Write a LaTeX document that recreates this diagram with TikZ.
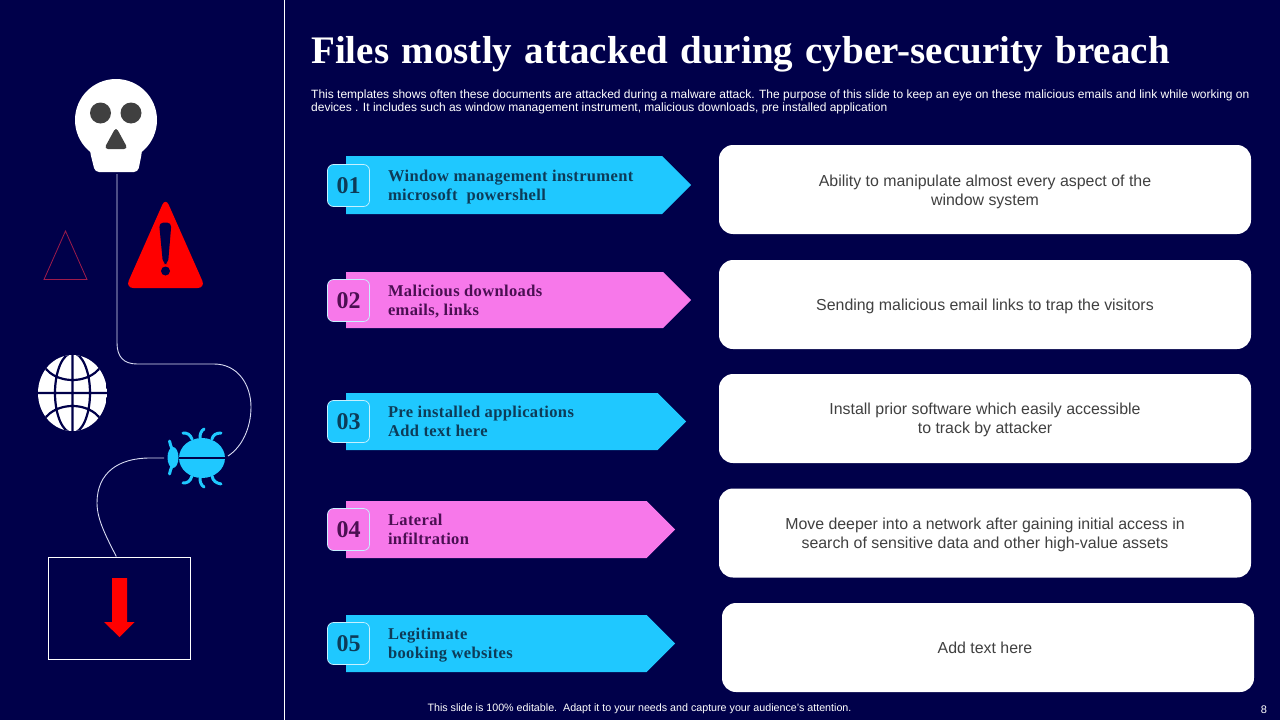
\documentclass[tikz,border=0pt]{standalone}
\usepackage{fontspec}
\setmainfont{Liberation Sans}
\newfontfamily\headfont{Liberation Serif}
\newfontfamily\titlefont[LetterSpace=0.15,WordSpace=1.25]{Liberation Serif}
\newfontfamily\tagfont[LetterSpace=2.2]{Liberation Serif}
\usepackage{xcolor}
\definecolor{cyberbg}{HTML}{00004A}
\definecolor{cyberblue}{HTML}{1FC8FF}
\definecolor{cyberpink}{HTML}{F778EA}
\definecolor{cyberteal}{HTML}{0D3B58}
\definecolor{cyberplum}{HTML}{4A0F52}
\definecolor{cybergrey}{HTML}{404040}
\definecolor{cyberline}{HTML}{D9DCF2}
\definecolor{cyberred}{HTML}{FF0000}
\definecolor{cyberwine}{HTML}{9E1B4B}
\usetikzlibrary{shapes.symbols, positioning}

\begin{document}
\begin{tikzpicture}[x=1pt, y=-1pt,
  tagarrow/.style={signal, signal from=nowhere, signal to=east, signal pointer angle=90,
    anchor=west, inner sep=0pt, minimum height=57pt},
  badge/.style={rectangle, rounded corners=6pt, draw=white!75!cyberblue, line width=0.7pt,
    minimum width=42pt, minimum height=42pt, inner sep=0pt,
    font=\headfont\bfseries\fontsize{24}{24}\selectfont},
  taglabel/.style={align=left, inner sep=0pt, anchor=west,
    font=\tagfont\bfseries\fontsize{16.5}{19}\selectfont},
  card/.style={rectangle, rounded corners=14pt, fill=white,
    minimum width=532pt, minimum height=89pt, inner sep=0pt},
  cardtext/.style={text=cybergrey, align=center, inner sep=0pt,
    font=\fontsize{15.9}{19}\selectfont},
  wire/.style={cyberline, line width=0.9pt},
  plaintext/.style={text=white, inner sep=0pt}
]
\useasboundingbox (0,0) rectangle (1280,720);
\fill[cyberbg] (0,0) rectangle (1280,720);
\draw[white, line width=1pt] (284.5,0) -- (284.5,720);

% title and intro
\node[plaintext, anchor=base west, font=\titlefont\bfseries\fontsize{39}{39}\selectfont] (title) at (311,63.5)
  {Files mostly attacked during cyber-security breach};
\node[plaintext, anchor=north west, align=left, font=\fontsize{12}{13}\selectfont] (intro) at (311,90)
  {This templates shows often these documents are attacked during a malware attack. The purpose of this slide to keep an eye on these malicious emails and link while working on\\
   devices . It includes such as window management instrument, malicious downloads, pre installed application};

% arrows
\node[tagarrow, fill=cyberblue, minimum width=345pt, minimum height=58pt] (arrow1) at (346,185) {};
\node[badge, fill=cyberblue, text=cyberteal] (num1) at (348.5,185.5) {01};
\node[taglabel, text=cyberteal, right=18pt of num1, yshift=-2pt] (tag1)
  {Window management instrument\\microsoft\ \ powershell};
\node[tagarrow, fill=cyberpink, minimum width=345pt, minimum height=56pt] (arrow2) at (346,300) {};
\node[badge, fill=cyberpink, text=cyberplum] (num2) at (348.5,300.5) {02};
\node[taglabel, text=cyberplum, right=18pt of num2, yshift=-1pt] (tag2)
  {Malicious downloads\\emails, links};
\node[tagarrow, fill=cyberblue, minimum width=340pt] (arrow3) at (346,421.5) {};
\node[badge, fill=cyberblue, text=cyberteal] (num3) at (348.5,421.5) {03};
\node[taglabel, text=cyberteal, right=18pt of num3] (tag3)
  {Pre installed applications\\Add text here};
\node[tagarrow, fill=cyberpink, minimum width=329pt] (arrow4) at (346,529.5) {};
\node[badge, fill=cyberpink, text=cyberplum] (num4) at (348.5,529.5) {04};
\node[taglabel, text=cyberplum, right=18pt of num4] (tag4)
  {Lateral\\infiltration};
\node[tagarrow, fill=cyberblue, minimum width=329pt] (arrow5) at (346,643.5) {};
\node[badge, fill=cyberblue, text=cyberteal] (num5) at (348.5,643.5) {05};
\node[taglabel, text=cyberteal, right=18pt of num5, yshift=-2pt] (tag5)
  {Legitimate\\booking websites};

% cards
\node[card] (card1) at (985,189.5) {};
\node[cardtext, yshift=-2.5pt] (text1) at (card1) {Ability to manipulate almost every aspect of the\\window system};
\node[card] (card2) at (985,304.5) {};
\node[cardtext, yshift=-1.5pt] (text2) at (card2) {Sending malicious email links to trap the visitors};
\node[card] (card3) at (985,418.5) {};
\node[cardtext, yshift=-1.5pt] (text3) at (card3) {Install prior software which easily accessible\\to track by attacker};
\node[card] (card4) at (985,533) {};
\node[cardtext, yshift=-2pt] (text4) at (card4) {Move deeper into a network after gaining initial access in\\search of sensitive data and other high-value assets};
\node[card] (card5) at (988,647.5) {};
\node[cardtext, xshift=-3pt] (text5) at (card5) {Add text here};

% skull
\fill[white] (116,120) circle (41pt);
\fill[white, rounded corners=4pt] (90,140) -- (142,140) -- (142,152) -- (138,172) -- (95,172) -- (90,152) -- cycle;
\fill[cybergrey] (100.5,113) circle (10.5pt) (131,113) circle (10.5pt);
\fill[cybergrey, rounded corners=4pt] (116,127) -- (128,149) -- (104,149) -- cycle;
\coordinate (skull) at (117,174);

% warning signs
\draw[draw=cyberwine, line width=0.8pt] (65.5,231) -- (87,279.5) -- (44,279.5) -- cycle;
\fill[cyberred, rounded corners=8pt] (165.5,197.5) -- (205.5,288) -- (125.5,288) -- cycle;
\fill[cyberbg, rounded corners=4.5pt] (159,222.5) -- (171.5,222.5) -- (168,264) -- (163,264) -- cycle;
\fill[cyberbg] (165.5,271) circle (4.5pt);

% globe
\begin{scope}
\clip (72.5,393) ellipse (34.5pt and 38pt);
\fill[white] (38,355) rectangle (107,431);
\draw[cyberbg, line width=2.2pt] (38,393) -- (107,393) (72.5,355) -- (72.5,431)
  (72.5,393) ellipse (17.5pt and 40pt)
  (72.5,355) ellipse (32pt and 25pt) (72.5,431) ellipse (32pt and 25pt);
\end{scope}

% bug
\fill[cyberblue] (202,458) ellipse (23pt and 20pt);
\draw[cyberbg, line width=2pt] (178,457.5) -- (226,457.5);
\fill[cyberblue] (173,457.5) ellipse (5.5pt and 10.5pt);
\draw[cyberblue, line width=3pt, line cap=round]
  (172,449) .. controls (172,446) and (169,444) .. (169.5,441)
  (172,466) .. controls (172,469) and (169,471) .. (169.5,474)
  (192,439) .. controls (190,434) and (187,433) .. (183,433)
  (200,438) .. controls (200,434) and (201,431) .. (204,429)
  (212,439) .. controls (213,435) and (216,433) .. (221,433)
  (192,476) .. controls (190,482) and (187,483) .. (183,483)
  (200,478) .. controls (200,482) and (201,485) .. (204,487)
  (212,476) .. controls (213,481) and (216,483) .. (221,484);
\coordinate (bugright) at (228,456);
\coordinate (bugleft) at (164,458);

% red arrow in frame
\node[draw=white, line width=0.9pt, minimum width=142pt, minimum height=102pt, inner sep=0pt] (frame) at (119,608) {};
\fill[cyberred] (112,578) -- (127,578) -- (127,622) -- (134.5,622) -- (119.5,637) -- (104,622) -- (112,622) -- cycle;

% connectors
\draw[wire] (skull) -- (117,343) .. controls (117,357) and (124,364) .. (137,364) -- (214,364)
  .. controls (238,364) and (251,385) .. (251,407) .. controls (251,428) and (242,447) .. (bugright);
\draw[wire] (bugleft) -- (150,458) .. controls (118,458) and (97,473) .. (97,503)
  .. controls (97,520) and (107,538) .. (frame.93);

% footer
\node[plaintext, font=\fontsize{10.7}{12}\selectfont] (footer) at (639.5,708.5)
  {This slide is 100\% editable.\ \ Adapt it to your needs and capture your audience's attention.};
\node[plaintext, font=\fontsize{11}{12}\selectfont] (page) at (1264,709.5) {8};
\end{tikzpicture}
\end{document}
